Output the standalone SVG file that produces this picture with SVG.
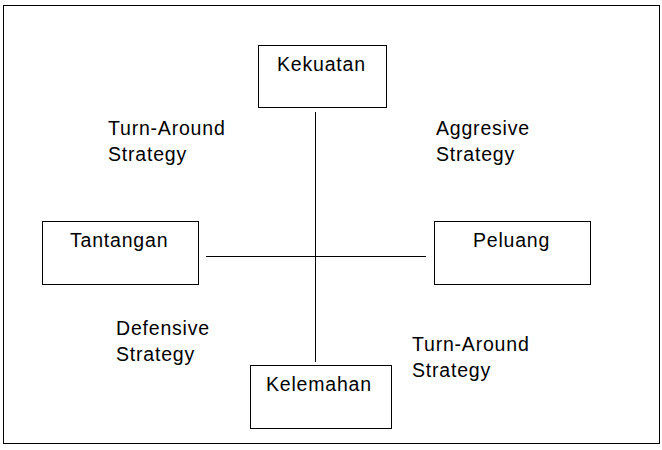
<svg xmlns="http://www.w3.org/2000/svg" width="662" height="450" viewBox="0 0 662 450">
<style>
.b{fill:#fff;stroke:#000;stroke-width:1}
text{font-family:"Liberation Sans",Arial,sans-serif;font-size:19.5px;letter-spacing:0.8px;fill:#000}
line{stroke:#000;stroke-width:1}
</style>
<rect x="0" y="0" width="662" height="450" fill="#fff"/>
<rect x="3.5" y="5.5" width="656" height="438" fill="none" stroke="#000"/>
<g id="connectors">
<line x1="315.5" y1="112" x2="315.5" y2="362"/>
<line x1="206" y1="256.5" x2="426" y2="256.5"/>
</g>
<g id="kekuatan"><rect class="b" x="258.5" y="45.5" width="128" height="62"/><text x="277" y="71">Kekuatan</text></g>
<g id="tantangan"><rect class="b" x="42.5" y="221.5" width="156" height="63"/><text x="70" y="247">Tantangan</text></g>
<g id="peluang"><rect class="b" x="434.5" y="221.5" width="156" height="63"/><text x="473" y="247">Peluang</text></g>
<g id="kelemahan"><rect class="b" x="250.5" y="365.5" width="141" height="63"/><text x="266" y="391">Kelemahan</text></g>
<text x="108" y="135">Turn-Around</text><text x="108" y="161">Strategy</text>
<text x="436" y="135">Aggresive</text><text x="436" y="161">Strategy</text>
<text x="116" y="335">Defensive</text><text x="116" y="361">Strategy</text>
<text x="412" y="351">Turn-Around</text><text x="412" y="377">Strategy</text>
</svg>
